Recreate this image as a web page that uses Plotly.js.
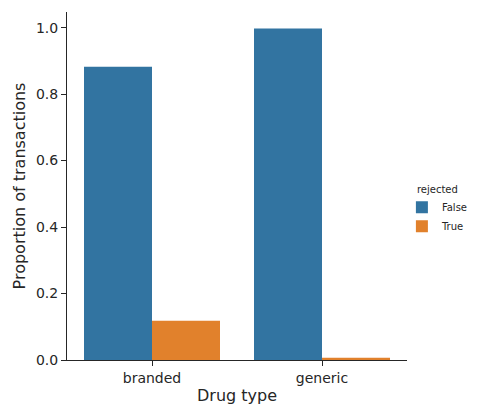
<!DOCTYPE html>
<html><head><meta charset="utf-8">
<script src="https://cdn.plot.ly/plotly-3.0.1.min.js"></script>
<style>body{margin:0;background:#fff}#c{width:484px;height:419px}</style>
</head><body><div id="c"></div>
<script>
const categories = ["branded", "generic"];
const falseValues = [0.882, 0.997];
const trueValues = [0.118, 0.007];
const seriesNames = ["False", "True"];
const colors = ["#3274a1", "#e1812c"];

const font = "DejaVu Sans, sans-serif";
const traces = [falseValues, trueValues].map((v, i) => ({
  type: "bar", x: categories, y: v, name: seriesNames[i],
  marker: {color: colors[i], line: {width: 0}}
}));
const layout = {
  width: 484, height: 419,
  margin: {l: 67, r: 77, t: 12, b: 59, autoexpand: false},
  barmode: "group", bargap: 0.2, bargroupgap: 0,
  paper_bgcolor: "#fff", plot_bgcolor: "#fff",
  font: {family: font, color: "#262626"},
  xaxis: {
    range: [-0.5, 1.5], showline: true, linecolor: "#262626", linewidth: 1,
    ticks: "outside", ticklen: 5, tickcolor: "#262626", showgrid: false, zeroline: false,
    tickfont: {size: 14, family: font}, automargin: false,
    title: {text: "Drug type", font: {size: 16, family: font}, standoff: 5}
  },
  yaxis: {
    range: [0, 1.047], showline: true, linecolor: "#262626", linewidth: 1,
    ticks: "outside", ticklen: 5, tickcolor: "#262626", showgrid: false, zeroline: false,
    tickvals: [0, 0.2, 0.4, 0.6, 0.8, 1.0], ticktext: ["0.0","0.2","0.4","0.6","0.8","1.0"],
    tickfont: {size: 14, family: font}, automargin: false,
    title: {text: "Proportion of transactions", font: {size: 16, family: font}, standoff: 6}
  },
  showlegend: true,
  legend: {
    x: 0.985, xanchor: "left", y: 0.43, yanchor: "middle",
    font: {size: 10, family: font},
    title: {text: "rejected", side: "top center", font: {size: 10, family: font}},
    bgcolor: "rgba(0,0,0,0)", borderwidth: 0, tracegroupgap: 0
  }
};
Plotly.newPlot("c", traces, layout, {displayModeBar: false, staticPlot: true});
</script></body></html>
